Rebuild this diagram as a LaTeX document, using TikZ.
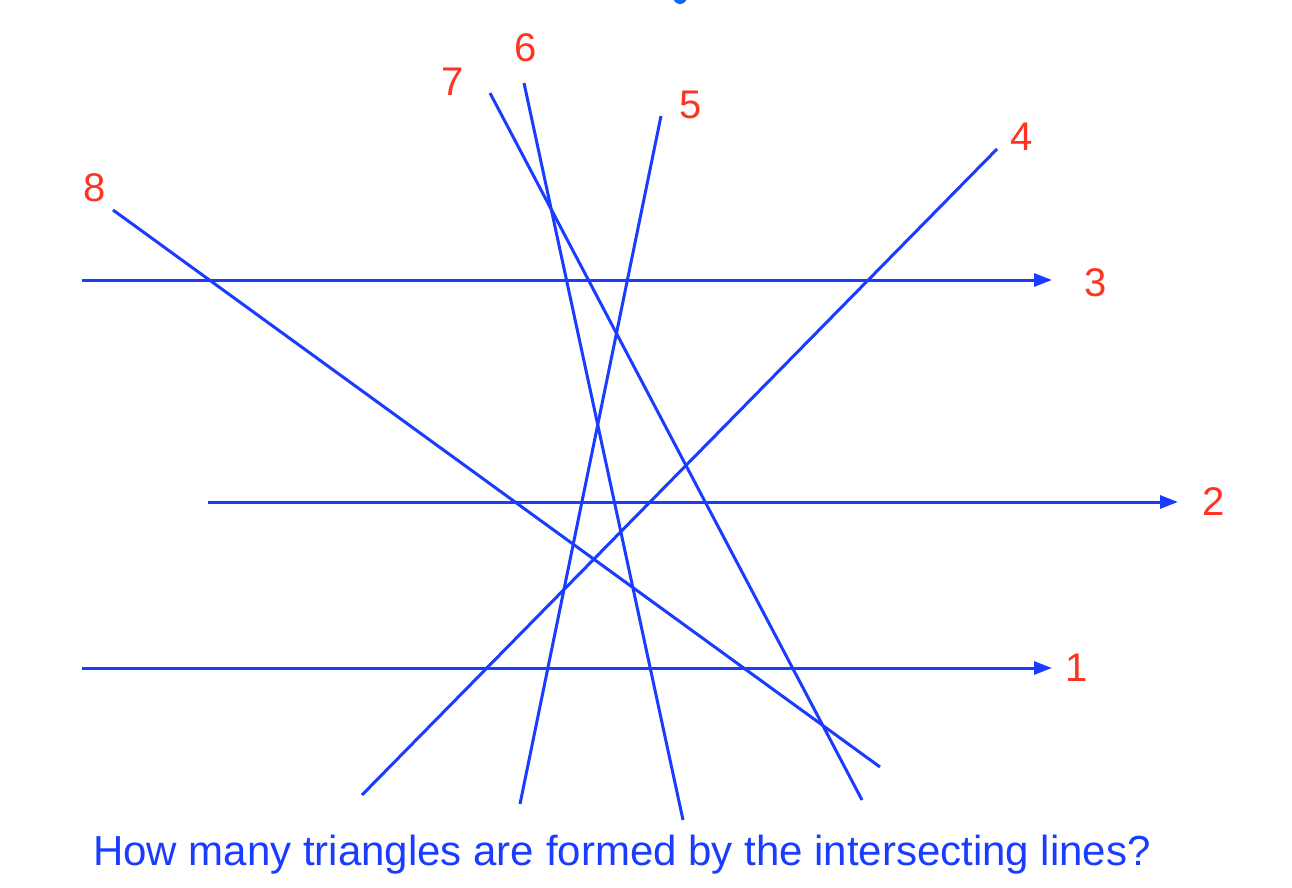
\documentclass[tikz,border=0pt]{standalone}
\usepackage{fontspec}
\setmainfont{Liberation Sans}
\usetikzlibrary{arrows.meta}
\definecolor{lb}{HTML}{1A3CFF}
\definecolor{lr}{HTML}{FF3322}
\begin{document}
\begin{tikzpicture}[x=1pt,y=-1pt,
  ln/.style={lb,line width=3pt},
  ar/.style={ln,-{Triangle[length=18pt,width=13pt]}},
  lab/.style={lr,font=\fontsize{40}{42}\selectfont,inner sep=0}]
\useasboundingbox (0,0) rectangle (1292,888);
\fill[lb!80!cyan] (680,-3) circle (7);
\coordinate (a3) at (82,280); \coordinate (b3) at (1052,280);
\coordinate (a2) at (208,502); \coordinate (b2) at (1178,502);
\coordinate (a1) at (82,668); \coordinate (b1) at (1052,668);
\coordinate (a8) at (113,210); \coordinate (b8) at (880,767);
\coordinate (a7) at (490,93); \coordinate (b7) at (862,800);
\coordinate (a6) at (524,83); \coordinate (b6) at (683,820);
\coordinate (a5) at (661,116); \coordinate (b5) at (520,804);
\coordinate (a4) at (997,149); \coordinate (b4) at (362,795);
\draw[ar] (a3)--(b3); \draw[ar] (a2)--(b2); \draw[ar] (a1)--(b1);
\draw[ln] (a8)--(b8); \draw[ln] (a7)--(b7); \draw[ln] (a6)--(b6);
\draw[ln] (a5)--(b5); \draw[ln] (a4)--(b4);
\node[lab] (l8) at (95,188) {8};
\node[lab] (l7) at (453,82) {7};
\node[lab] (l6) at (526,48) {6};
\node[lab] (l5) at (691,105) {5};
\node[lab] (l4) at (1022,137) {4};
\node[lab] (l3) at (1096,283) {3};
\node[lab] (l2) at (1214,502) {2};
\node[lab] (l1) at (1077,668) {1};
\node[lb,font=\fontsize{42}{44}\selectfont,inner sep=0] (q) at (622,855) {How many triangles are formed by the intersecting lines?};
\end{tikzpicture}
\end{document}
